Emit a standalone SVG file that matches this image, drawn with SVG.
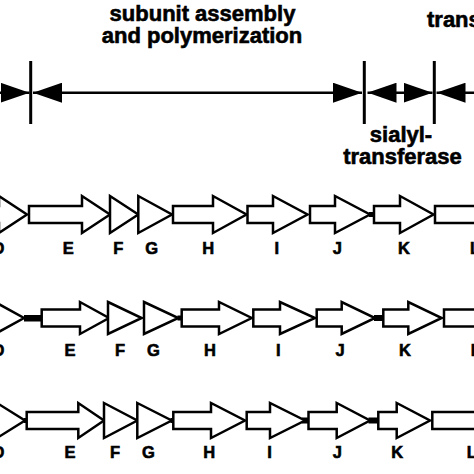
<svg xmlns="http://www.w3.org/2000/svg" width="474" height="474" viewBox="0 0 474 474">
<defs>
<style>
.t{font-family:"Liberation Sans",Arial,sans-serif;font-weight:bold;fill:#000;stroke:#000;stroke-width:0.6}
.title{font-size:22px}
.lab{font-size:16.5px}
.gene{fill:#fff;stroke:#000;stroke-width:2.5;stroke-linejoin:miter}
.dim{stroke:#000;stroke-width:2.6;fill:none}
.bar{stroke:#000;stroke-width:3}
.junc{fill:#000}
</style>
<marker id="ah" viewBox="0 0 29 20" refX="29" refY="10" markerWidth="29" markerHeight="20" markerUnits="userSpaceOnUse" orient="auto-start-reverse">
<path d="M0,0 L29,10 L0,20 Z" fill="#000"/>
</marker>
</defs>
<rect width="474" height="474" fill="#fff"/>

<g id="labels-top">
<text class="t title" x="202.5" y="20.5" text-anchor="middle">subunit assembly</text>
<text class="t title" x="202" y="42.7" text-anchor="middle">and polymerization</text>
<text class="t title" x="427" y="27">trans</text>
<text class="t title" x="401" y="142" text-anchor="middle">sialyl-</text>
<text class="t title" x="402.5" y="164" text-anchor="middle">transferase</text>
</g>

<g id="connectors">
<line class="bar" x1="30.7" y1="61" x2="30.7" y2="124"/>
<line class="bar" x1="364.3" y1="61" x2="364.3" y2="124"/>
<line class="bar" x1="434.3" y1="61" x2="434.3" y2="124"/>
<line class="dim" x1="-10" y1="92.7" x2="29.5" y2="92.7" marker-end="url(#ah)"/>
<line class="dim" x1="33" y1="92.7" x2="362" y2="92.7" marker-start="url(#ah)" marker-end="url(#ah)"/>
<line class="dim" x1="367.5" y1="92.7" x2="432.5" y2="92.7" marker-start="url(#ah)" marker-end="url(#ah)"/>
<line class="dim" x1="436.5" y1="92.7" x2="490" y2="92.7" marker-start="url(#ah)"/>
<rect class="junc" x="369" y="212" width="5" height="5"/>
<rect class="junc" x="24" y="315" width="18" height="6.5"/>
<rect class="junc" x="177.5" y="315.5" width="4.5" height="5"/>
<rect class="junc" x="374" y="315" width="9.5" height="6"/>
<rect class="junc" x="24" y="418" width="3.5" height="5"/>
<rect class="junc" x="170.5" y="418" width="3" height="5"/>
<rect class="junc" x="302" y="417.5" width="6.5" height="6"/>
<rect class="junc" x="368.5" y="417.5" width="10" height="6"/>
</g>

<g id="row1">
<g id="r1-D"><polygon class="gene" points="-40,206 -1,206 -1,196 27,214.5 -1,233 -1,223 -40,223"/><text class="t lab" x="-1.5" y="254" text-anchor="middle">D</text></g>
<g id="r1-E"><polygon class="gene" points="29,206 82,206 82,196 110,214.5 82,233 82,223 29,223"/><text class="t lab" x="68.3" y="254" text-anchor="middle">E</text></g>
<g id="r1-F"><polygon class="gene" points="110,196 138.3,214.5 110,233"/><text class="t lab" x="118.3" y="254" text-anchor="middle">F</text></g>
<g id="r1-G"><polygon class="gene" points="138.3,196 172,214.5 138.3,233"/><text class="t lab" x="151.7" y="254" text-anchor="middle">G</text></g>
<g id="r1-H"><polygon class="gene" points="173,206 213,206 213,196 246.5,214.5 213,233 213,223 173,223"/><text class="t lab" x="208.3" y="254" text-anchor="middle">H</text></g>
<g id="r1-I"><polygon class="gene" points="247.5,206 273,206 273,196 307.5,214.5 273,233 273,223 247.5,223"/><text class="t lab" x="276.7" y="254" text-anchor="middle">I</text></g>
<g id="r1-J"><polygon class="gene" points="310,206 335,206 335,196 370,214.5 335,233 335,223 310,223"/><text class="t lab" x="337.3" y="254" text-anchor="middle">J</text></g>
<g id="r1-K"><polygon class="gene" points="374,206 400,206 400,196 433.5,214.5 400,233 400,223 374,223"/><text class="t lab" x="404" y="254" text-anchor="middle">K</text></g>
<g id="r1-L"><polygon class="gene" points="435,206 490,206 490,223 435,223"/><text class="t lab" x="470" y="254">L</text></g>
</g>

<g id="row2">
<g id="r2-D"><polygon class="gene" points="-40,309.5 -5,309.5 -5,302 24,318 -5,334 -5,326.5 -40,326.5"/><text class="t lab" x="-1.5" y="355.5" text-anchor="middle">D</text></g>
<g id="r2-E"><polygon class="gene" points="41.7,309.5 80,309.5 80,302 109,318 80,334 80,326.5 41.7,326.5"/><text class="t lab" x="70" y="355.5" text-anchor="middle">E</text></g>
<g id="r2-F"><polygon class="gene" points="108,302 141.7,318 108,334"/><text class="t lab" x="120" y="355.5" text-anchor="middle">F</text></g>
<g id="r2-G"><polygon class="gene" points="144,302 178.3,318 144,334"/><text class="t lab" x="153.3" y="355.5" text-anchor="middle">G</text></g>
<g id="r2-H"><polygon class="gene" points="181.7,309.5 219,309.5 219,302 251.7,318 219,334 219,326.5 181.7,326.5"/><text class="t lab" x="210" y="355.5" text-anchor="middle">H</text></g>
<g id="r2-I"><polygon class="gene" points="253.3,309.5 280,309.5 280,302 315,318 280,334 280,326.5 253.3,326.5"/><text class="t lab" x="278.3" y="355.5" text-anchor="middle">I</text></g>
<g id="r2-J"><polygon class="gene" points="316.7,309.5 341.7,309.5 341.7,302 375,318 341.7,334 341.7,326.5 316.7,326.5"/><text class="t lab" x="340" y="355.5" text-anchor="middle">J</text></g>
<g id="r2-K"><polygon class="gene" points="383.3,309.5 408.3,309.5 408.3,302 441.7,318 408.3,334 408.3,326.5 383.3,326.5"/><text class="t lab" x="405" y="355.5" text-anchor="middle">K</text></g>
<g id="r2-L"><polygon class="gene" points="444,309.5 490,309.5 490,326.5 444,326.5"/><text class="t lab" x="470.7" y="355.5">L</text></g>
</g>

<g id="row3">
<g id="r3-D"><polygon class="gene" points="-40,412 -3,412 -3,403 25,420.5 -3,438 -3,429 -40,429"/><text class="t lab" x="-1.5" y="458.3" text-anchor="middle">D</text></g>
<g id="r3-E"><polygon class="gene" points="26.7,412 78.3,412 78.3,403 104,420.5 78.3,438 78.3,429 26.7,429"/><text class="t lab" x="70" y="458.3" text-anchor="middle">E</text></g>
<g id="r3-F"><polygon class="gene" points="104,403 137.3,420.5 104,438"/><text class="t lab" x="115" y="458.3" text-anchor="middle">F</text></g>
<g id="r3-G"><polygon class="gene" points="137.3,403 171.7,420.5 137.3,438"/><text class="t lab" x="148.3" y="458.3" text-anchor="middle">G</text></g>
<g id="r3-H"><polygon class="gene" points="173.3,412 211,412 211,403 245,420.5 211,438 211,429 173.3,429"/><text class="t lab" x="209.3" y="458.3" text-anchor="middle">H</text></g>
<g id="r3-I"><polygon class="gene" points="246.7,412 270,412 270,403 305,420.5 270,438 270,429 246.7,429"/><text class="t lab" x="269.5" y="458.3" text-anchor="middle">I</text></g>
<g id="r3-J"><polygon class="gene" points="308.5,412 336.7,412 336.7,403 370,420.5 336.7,438 336.7,429 308.5,429"/><text class="t lab" x="337.3" y="458.3" text-anchor="middle">J</text></g>
<g id="r3-K"><polygon class="gene" points="378.3,412 396.7,412 396.7,403 430,420.5 396.7,438 396.7,429 378.3,429"/><text class="t lab" x="397.3" y="458.3" text-anchor="middle">K</text></g>
<g id="r3-L"><polygon class="gene" points="432.3,412 490,412 490,429 432.3,429"/><text class="t lab" x="466.7" y="458.3">L</text></g>
</g>
</svg>
